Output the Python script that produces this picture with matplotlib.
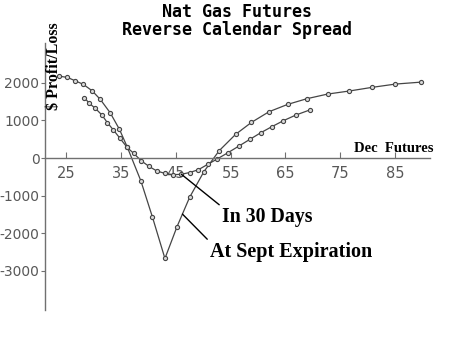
import matplotlib
matplotlib.use("Agg")
import matplotlib.pyplot as plt

# Dec futures price vs profit/loss of the spread
exp_x = [23.6, 25.2, 26.6, 28.1, 29.7, 31.2, 33.0, 34.7, 36.1, 38.6, 40.7, 43.0,
         45.2, 47.5, 50.1, 52.9, 55.9, 58.8, 62.0, 65.4, 68.9, 72.7, 76.6, 80.8,
         85.1, 89.8]
exp_y = [2180, 2145, 2056, 1960, 1790, 1560, 1205, 763, 300, -604, -1560, -2670,
         -1826, -1046, -364, 195, 630, 949, 1232, 1427, 1578, 1702, 1782, 1880,
         1968, 2020]

d30_x = [28.3, 29.2, 30.3, 31.5, 32.5, 33.6, 34.8, 36.1, 37.3, 38.7, 40.1, 41.5,
         43.0, 44.5, 46.0, 47.5, 49.1, 50.9, 52.5, 54.5, 56.5, 58.5, 60.5, 62.5,
         64.6, 66.9, 69.4]
d30_y = [1604, 1454, 1321, 1144, 939, 745, 524, 284, 124, -75, -222, -342,
         -408, -443, -430, -385, -310, -160, -27, 142, 319, 497, 674, 833,
         992, 1144, 1277]

xticks = [25, 35, 45, 55, 65, 75, 85]
yticks = [-3000, -2000, -1000, 0, 1000, 2000]

W, H = 474, 355
fig = plt.figure(figsize=(W / 100, H / 100), dpi=100)
ax = fig.add_axes([45 / W, (H - 310) / H, (430 - 45) / W, (310 - 43) / H])

line_c = "#454545"
axis_c = "#707070"
for xs, ys in [(exp_x, exp_y), (d30_x, d30_y)]:
    ax.plot(xs, ys, color=line_c, lw=0.9, marker="o", ms=3.0, mfc="#d8d8d8",
            mec=line_c, mew=0.8)

ax.set_xlim(21.1, 91.4)
ax.set_ylim(-4040, 3060)

ax.spines["top"].set_visible(False)
ax.spines["right"].set_visible(False)
ax.spines["bottom"].set_position(("data", 0))
for s in ("left", "bottom"):
    ax.spines[s].set_color(axis_c)
    ax.spines[s].set_linewidth(1.0)

ax.set_xticks(xticks)
ax.set_yticks(yticks)
ax.set_yticklabels([str(v) for v in yticks])
ax.tick_params(axis="x", direction="in", length=4, color=axis_c, pad=6,
               labelsize=10.5, labelcolor="#585858")
ax.tick_params(axis="y", direction="out", length=3, color=axis_c, pad=1,
               labelsize=10, labelcolor="#585858")
for lab in ax.get_xticklabels() + ax.get_yticklabels():
    lab.set_family("DejaVu Sans")

fig.text(0.5, 1 - 12 / H, "Nat Gas Futures", ha="center", va="center",
         family="DejaVu Sans Mono", weight="bold", fontsize=12)
fig.text(0.5, 1 - 30 / H, "Reverse Calendar Spread", ha="center", va="center",
         family="DejaVu Sans Mono", weight="bold", fontsize=12)

fig.text(54 / W, 1 - 66 / H, "\\$ Profit/Loss", rotation=90, ha="center",
         va="center", family="Liberation Serif", weight="bold", fontsize=11.5)
fig.text(433 / W, 1 - 148 / H, "Dec  Futures", ha="right", va="center",
         family="Liberation Serif", weight="bold", fontsize=10.5)

ax.annotate("In 30 Days", xy=(46.0, -430), xytext=(222, H - 217),
            textcoords="figure pixels", ha="left", va="center",
            family="Liberation Serif", weight="bold", fontsize=14.3,
            arrowprops=dict(arrowstyle="-", color="black", lw=1.0,
                            shrinkA=0, shrinkB=0, relpos=(0, 1)))
ax.annotate("At Sept Expiration", xy=(46.2, -1490), xytext=(210, H - 252),
            textcoords="figure pixels", ha="left", va="center",
            family="Liberation Serif", weight="bold", fontsize=14.5,
            arrowprops=dict(arrowstyle="-", color="black", lw=1.0,
                            shrinkA=0, shrinkB=0, relpos=(0, 1)))

fig.savefig("out.png", dpi=100)
